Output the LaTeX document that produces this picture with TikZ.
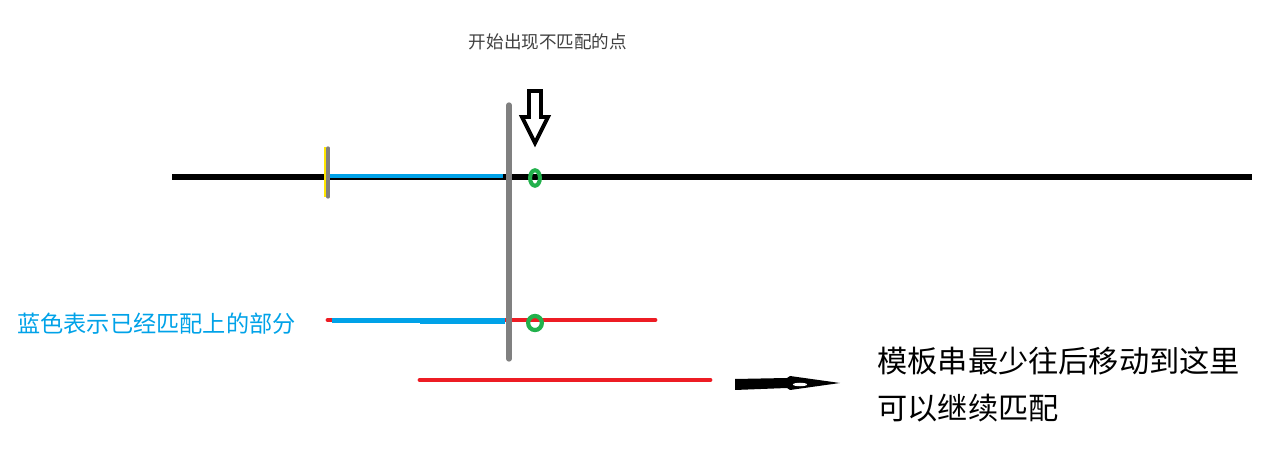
\documentclass[tikz,border=0pt]{standalone}
\usepackage{fontspec}
\newfontfamily\cjk{Noto Sans CJK SC}
\usetikzlibrary{positioning}

\begin{document}
\begin{tikzpicture}[x=0.02cm, y=-0.02cm]
			\definecolor{BLUE}{RGB}{0, 162, 232}
			\definecolor{RED}{RGB}{237, 28, 36}
			\definecolor{GREEN}{RGB}{34, 177, 76}
			\definecolor{YELLOW}{RGB}{255, 230, 0}
			\definecolor{GREY}{RGB}{128, 128, 128}
			\useasboundingbox (0,0) rectangle (1275,455);
			\coordinate (textstart) at (172, 177);
			\coordinate (textend) at (1252, 177);
			\coordinate (matchstart) at (330, 176);
			\coordinate (matchend) at (503, 176);
			\coordinate (tickyellowtop) at (325, 147);
			\coordinate (tickyellowbot) at (325, 197);
			\coordinate (ticktop) at (328, 148);
			\coordinate (tickbot) at (328, 197);
			\coordinate (cuttop) at (509, 105);
			\coordinate (cutbot) at (509, 359);
			\coordinate (patstart) at (328, 320);
			\coordinate (patend) at (655, 320);
			\coordinate (patmatchstart) at (332, 320.5);
			\coordinate (patmatchend) at (505, 320.5);
			\coordinate (patprefixstart) at (420, 322);
			\coordinate (patprefixend) at (505, 322);
			\coordinate (shiftstart) at (420, 380);
			\coordinate (shiftend) at (710, 380);
			\node[font={\cjk\fontsize{10}{12}\selectfont}, text={black!75}] (mismatchlabel) at (548, 42) {开始出现不匹配的点};
			\node[anchor=west, font={\cjk\fontsize{13.2}{16}\selectfont}, text={BLUE}, inner sep=0pt] (bluelabel) at (17, 324) {蓝色表示已经匹配上的部分};
			\node[anchor=north west, align=left, font={\cjk\fontsize{17.2}{26.6}\selectfont}, inner sep=0pt] (shiftlabel) at (877, 347) {模板串最少往后移动到这里\\可以继续匹配};
			\draw[-, line width={3pt}, color={black}] (textstart) to (textend);;
			\draw[-, line width={2.6pt}, color={BLUE}] (matchstart) to (matchend);;
			\draw[-, line width={1.6pt}, color={YELLOW}] (tickyellowtop) to (tickyellowbot);;
			\draw[-, line width={1.9pt}, color={GREY}, line cap=round] (ticktop) to (tickbot);;
			\draw[-, line width={2.8pt}, color={RED}, line cap=round] (patstart) to (patend);;
			\draw[-, line width={2.6pt}, color={BLUE}] (patmatchstart) to (patmatchend);;
			\draw[-, line width={2.6pt}, color={BLUE}] (patprefixstart) to (patprefixend);;
			\draw[-, line width={2.8pt}, color={RED}, line cap=round] (shiftstart) to (shiftend);;
			\draw[-, line width={3pt}, color={GREY}, line cap=round] (cuttop) to (cutbot);;
			\draw[line width={2.3pt}, color={GREEN}] (535, 178) ellipse [x radius=2.8pt, y radius=4.4pt];;
			\draw[line width={2.4pt}, color={GREEN}] (535, 323) ellipse [x radius=3.9pt, y radius=4pt];;
			% hollow arrow pointing to the mismatch
			\draw[line width={2.2pt}, color={black}, line join=miter] (529, 91) -- (541, 91) -- (541, 117) -- (548, 117) -- (535, 143) -- (522, 117) -- (529, 117) -- cycle;;
			% arrow towards the shifted pattern
			\fill[black] (735, 379) -- (787, 378) -- (790, 376) -- (840, 383) -- (790, 390) -- (787, 388) -- (735, 390) -- cycle;;
			\fill[white] (800, 384.5) ellipse [x radius=4pt, y radius=1pt];
		\end{tikzpicture}
\end{document}
